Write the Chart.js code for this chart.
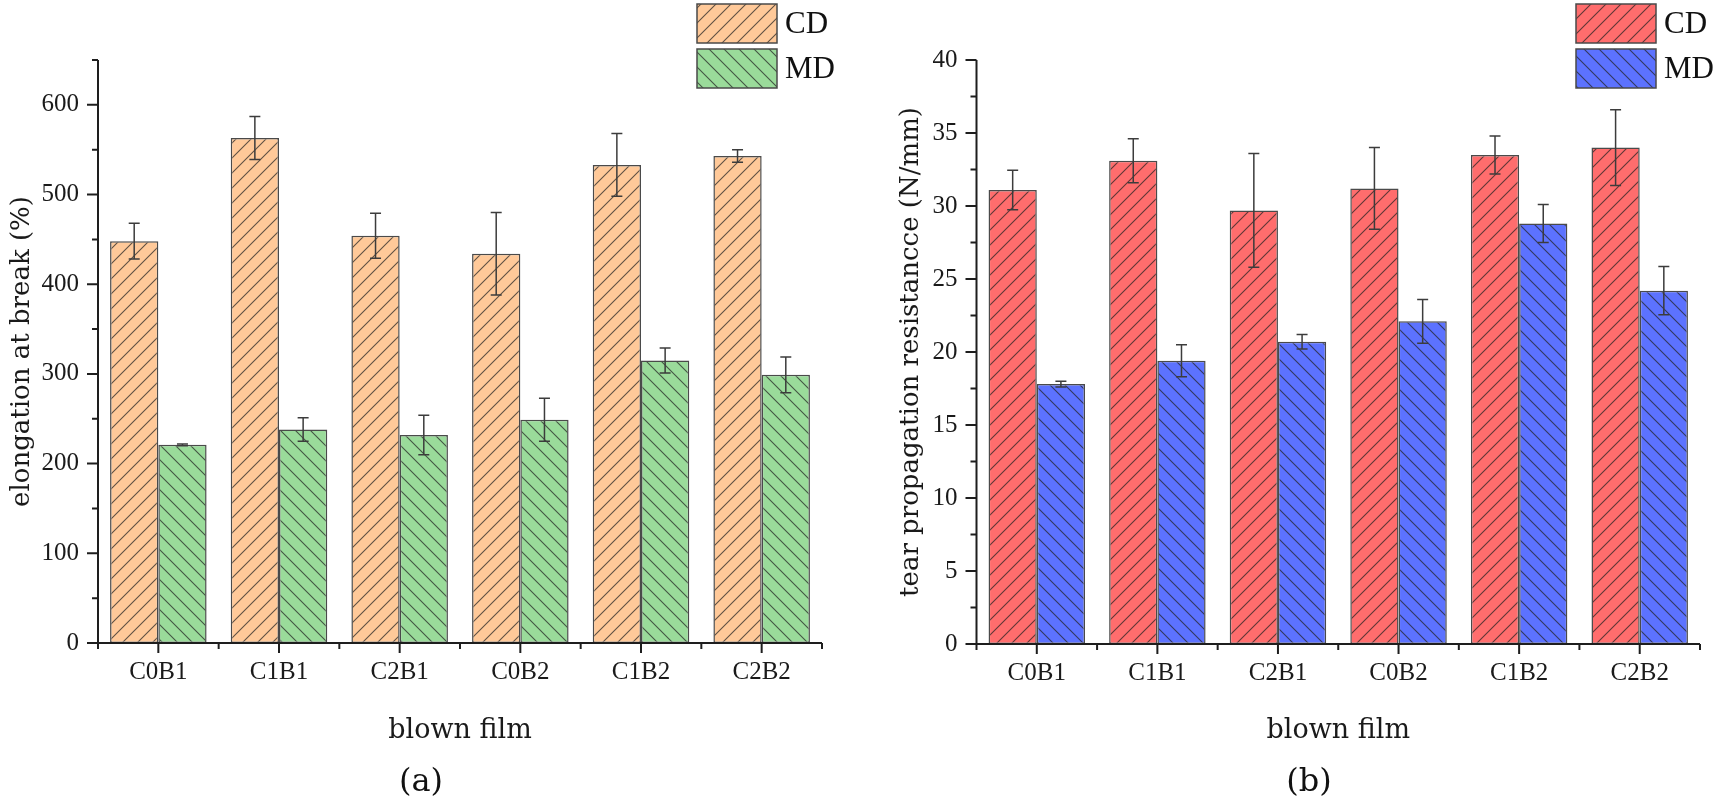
<!DOCTYPE html>
<html>
<head>
<meta charset="utf-8">
<script src="https://cdn.jsdelivr.net/npm/chart.js@4.4.1/dist/chart.umd.min.js"></script>
<style>
html,body{margin:0;padding:0;background:#fff;}
#wrap{position:relative;width:1720px;height:802px;background:#fff;}
canvas{position:absolute;top:0;}
#chartA{left:0;}
#chartB{left:860px;}
</style>
</head>
<body>
<div id="wrap">
<canvas id="chartA" width="860" height="802"></canvas>
<canvas id="chartB" width="860" height="802"></canvas>
</div>
<script>
// ---------- data ----------
const categories = ['C0B1', 'C1B1', 'C2B1', 'C0B2', 'C1B2', 'C2B2'];
const seriesNames = ['CD', 'MD'];

// (a) elongation at break (%)
const elongCD    = [448, 563, 454, 434, 533, 543];
const elongCDErr = [20, 24, 25, 46, 35, 7];
const elongMD    = [221, 238, 232, 249, 315, 299];
const elongMDErr = [1, 13, 22, 24, 14, 20];

// (b) tear propagation resistance (N/mm)
const tearCD    = [31.1, 33.1, 29.7, 31.2, 33.5, 34.0];
const tearCDErr = [1.35, 1.5, 3.9, 2.8, 1.3, 2.6];
const tearMD    = [17.8, 19.4, 20.7, 22.1, 28.8, 24.2];
const tearMDErr = [0.2, 1.1, 0.5, 1.5, 1.3, 1.65];

const panelLabels = ['(a)', '(b)'];
const xTitle = 'blown film';
const yTitles = ['elongation at break (%)', 'tear propagation resistancce (N/mm)'];

// ---------- helpers ----------
function makeHatch(ctx, bg, dir) {
  const s = 15, c = document.createElement('canvas');
  c.width = s; c.height = s;
  const g = c.getContext('2d');
  g.fillStyle = bg; g.fillRect(0, 0, s, s);
  g.strokeStyle = 'rgba(35,35,35,0.72)'; g.lineWidth = 1.1;
  g.beginPath();
  if (dir > 0) {
    g.moveTo(-2, s + 2); g.lineTo(s + 2, -2);
    g.moveTo(-2, 2); g.lineTo(2, -2);
    g.moveTo(s - 2, s + 2); g.lineTo(s + 2, s - 2);
  } else {
    g.moveTo(-2, -2); g.lineTo(s + 2, s + 2);
    g.moveTo(s - 2, -2); g.lineTo(s + 2, 2);
    g.moveTo(-2, s - 2); g.lineTo(2, s + 2);
  }
  g.stroke();
  return ctx.createPattern(c, 'repeat');
}

const errorBarsPlugin = {
  id: 'errorBars',
  afterDatasetsDraw(chart, args, o) {
    const {ctx, scales: {y}} = chart;
    ctx.save();
    ctx.strokeStyle = o.color; ctx.lineWidth = o.width;
    chart.data.datasets.forEach((ds, i) => {
      const meta = chart.getDatasetMeta(i);
      meta.data.forEach((bar, j) => {
        const v = ds.data[j], e = ds.errors[j];
        const t = y.getPixelForValue(v + e), b = y.getPixelForValue(v - e);
        const x = bar.x, h = o.cap / 2;
        ctx.beginPath();
        ctx.moveTo(x, t); ctx.lineTo(x, b);
        ctx.moveTo(x - h, t); ctx.lineTo(x + h, t);
        ctx.moveTo(x - h, b); ctx.lineTo(x + h, b);
        ctx.stroke();
      });
    });
    ctx.restore();
  }
};

const axesPlugin = {
  id: 'axesTicks',
  afterDraw(chart, args, o) {
    const {ctx, chartArea: ca, scales: {x, y}} = chart;
    ctx.save();
    ctx.strokeStyle = '#1e1e1e'; ctx.lineWidth = 2;
    ctx.beginPath();
    ctx.moveTo(ca.left, ca.top); ctx.lineTo(ca.left, ca.bottom + 1);
    ctx.moveTo(ca.left - 1, ca.bottom); ctx.lineTo(ca.right, ca.bottom);
    const nMinor = Math.round((y.max - y.min) / o.minorStep);
    for (let k = 0; k <= nMinor; k++) {
      const v = y.min + k * o.minorStep;
      const py = y.getPixelForValue(v);
      const r = v / o.majorStep;
      const major = Math.abs(r - Math.round(r)) < 1e-6;
      ctx.moveTo(ca.left, py); ctx.lineTo(ca.left - (major ? 11 : 6), py);
    }
    const n = x.ticks.length;
    for (let i = 0; i < n; i++) {
      const px = x.getPixelForTick(i);
      ctx.moveTo(px, ca.bottom); ctx.lineTo(px, ca.bottom + 10);
    }
    for (let i = 0; i <= n; i++) {
      const px = x.getPixelForValue(i - 0.5);
      ctx.moveTo(px, ca.bottom); ctx.lineTo(px, ca.bottom + 6);
    }
    ctx.stroke();
    ctx.restore();
  }
};

const hatchLegend = {
  id: 'hatchLegend',
  afterDraw(chart, args, o) {
    const {ctx, chartArea: ca} = chart;
    ctx.save();
    chart.data.datasets.forEach((ds, i) => {
      const bx = ca.right + o.offsetX, by = o.top + i * (o.boxH + o.gap);
      ctx.fillStyle = ds.backgroundColor;
      ctx.fillRect(bx, by, o.boxW, o.boxH);
      ctx.lineWidth = 1.5; ctx.strokeStyle = ds.borderColor;
      ctx.strokeRect(bx, by, o.boxW, o.boxH);
      ctx.fillStyle = '#111';
      ctx.font = o.font;
      ctx.textAlign = 'left'; ctx.textBaseline = 'middle';
      ctx.fillText(ds.label, bx + o.boxW + o.textGap, by + o.boxH / 2 + 1.5);
    });
    ctx.restore();
  }
};

function makeChart(id, cfg) {
  const canvas = document.getElementById(id);
  const ctx = canvas.getContext('2d');
  return new Chart(canvas, {
    type: 'bar',
    data: {
      labels: categories,
      datasets: [
        {label: seriesNames[0], data: cfg.cd, errors: cfg.cdErr,
         backgroundColor: makeHatch(ctx, cfg.cdColor, 1), borderColor: '#4a4a4a',
         borderWidth: 1.5, borderSkipped: false},
        {label: seriesNames[1], data: cfg.md, errors: cfg.mdErr,
         backgroundColor: makeHatch(ctx, cfg.mdColor, -1), borderColor: '#4a4a4a',
         borderWidth: 1.5, borderSkipped: false}
      ]
    },
    options: {
      responsive: false,
      animation: false,
      events: [],
      layout: {padding: {left: cfg.pl, right: cfg.pr, top: 60, bottom: 0}},
      datasets: {bar: {categoryPercentage: 0.8, barPercentage: 1.0}},
      scales: {
        x: {
          offset: true,
          grid: {display: false, drawTicks: false},
          border: {display: false},
          ticks: {padding: 14, color: '#1a1a1a', font: {family: 'Liberation Serif', size: 25}},
          title: {display: true, text: xTitle, color: '#1a1a1a',
                  font: {family: 'DejaVu Serif', size: 27, lineHeight: 1.2},
                  padding: {top: 0, bottom: 16}},
          afterFit: s => { s.height = cfg.xH; }
        },
        y: {
          min: 0, max: cfg.max,
          grid: {display: false, drawTicks: false},
          border: {display: false},
          ticks: {stepSize: cfg.major, padding: 19, color: '#1a1a1a',
                  font: {family: 'Liberation Serif', size: 25}},
          afterBuildTicks: s => {
            s.ticks = s.ticks.filter(t => Math.abs(t.value / cfg.major - Math.round(t.value / cfg.major)) < 1e-6);
          },
          title: {display: true, text: cfg.yTitle, color: '#1a1a1a',
                  font: {family: 'DejaVu Serif', size: 26, lineHeight: 1.2},
                  padding: {top: cfg.ytp, bottom: 0}},
          afterFit: s => { s.width = cfg.yW; }
        }
      },
      plugins: {
        legend: {display: false},
        tooltip: {enabled: false},
        title: {display: true, position: 'bottom', text: cfg.panel, color: '#111',
                font: {family: 'DejaVu Serif', size: 32, weight: 'normal', lineHeight: 1.2},
                padding: 0},
        errorBars: {color: '#3c3c3c', width: 1.5, cap: 11},
        axesTicks: {majorStep: cfg.major, minorStep: cfg.major / 2},
        hatchLegend: {offsetX: cfg.legX, top: 4, boxW: 80, boxH: 39, gap: 6, textGap: 8,
                      font: '31px "Liberation Serif"'}
      }
    },
    plugins: [errorBarsPlugin, axesPlugin, hatchLegend]
  });
}

makeChart('chartA', {
  cd: elongCD, cdErr: elongCDErr, md: elongMD, mdErr: elongMDErr,
  cdColor: '#FFC999', mdColor: '#9ADB9A',
  max: 650, major: 100,
  pl: 20, pr: 38, yW: 78, xH: 120.6, ytp: -13.6, legX: -125,
  yTitle: yTitles[0], panel: panelLabels[0]
});

makeChart('chartB', {
  cd: tearCD, cdErr: tearCDErr, md: tearMD, mdErr: tearMDErr,
  cdColor: '#FF6D6D', mdColor: '#5C72FF',
  max: 40, major: 5,
  pl: 58, pr: 20, yW: 58.5, xH: 119.6, ytp: -22.6, legX: -124,
  yTitle: yTitles[1], panel: panelLabels[1]
});
</script>
</body>
</html>
